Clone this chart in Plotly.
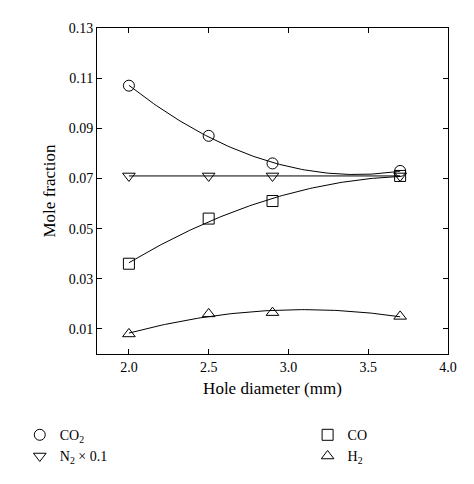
import numpy as np
import plotly.graph_objects as go

diam = [2.0, 2.5, 2.9, 3.7]
co2 = [0.107, 0.087, 0.076, 0.073]
n2 = [0.071, 0.071, 0.071, 0.071]
co = [0.036, 0.054, 0.061, 0.071]
h2 = [0.008, 0.016, 0.0165, 0.015]

series = [("CO<sub>2</sub>", co2, "circle-open", "legend"),
          ("N<sub>2</sub> × 0.1", n2, "triangle-down-open", "legend"),
          ("CO", co, "square-open", "legend2"),
          ("H<sub>2</sub>", h2, "triangle-up-open", "legend2")]

fig = go.Figure()
xs = np.linspace(min(diam), max(diam), 100)
for name, ys, sym, lg in series:
    c = np.polyfit(diam, ys, 2)
    fig.add_trace(go.Scatter(x=xs, y=np.polyval(c, xs), mode="lines",
                             line=dict(color="black", width=1), showlegend=False))
for name, ys, sym, lg in series:
    fig.add_trace(go.Scatter(x=diam, y=ys, mode="markers", name=name, legend=lg,
                             marker=dict(symbol=sym, size=11, color="black",
                                         line=dict(width=1, color="black"))))

ax = dict(showline=True, linecolor="black", mirror="ticks", ticks="inside",
          ticklen=5, tickcolor="black", showgrid=False, zeroline=False)
fig.update_layout(
    width=474, height=484, template="simple_white",
    font=dict(family="Liberation Serif", size=14, color="black"),
    margin=dict(l=80, r=34, t=20, b=138),
    xaxis=dict(ax, range=[1.8, 4.0], tickvals=[2.0, 2.5, 3.0, 3.5, 4.0],
               ticktext=["2.0", "2.5", "3.0", "3.5", "4.0"],
               title=dict(text="Hole diameter (mm)", standoff=8)),
    yaxis=dict(ax, range=[0.0, 0.13], tickvals=[0.01, 0.03, 0.05, 0.07, 0.09, 0.11, 0.13],
               tickformat=".2f", title=dict(text="Mole fraction", standoff=8)),
    legend=dict(x=-0.22, y=-0.2, xanchor="left", yanchor="top", font=dict(size=14)),
    legend2=dict(x=0.6, y=-0.2, xanchor="left", yanchor="top", font=dict(size=14)),
)
fig.write_html("out.html")
